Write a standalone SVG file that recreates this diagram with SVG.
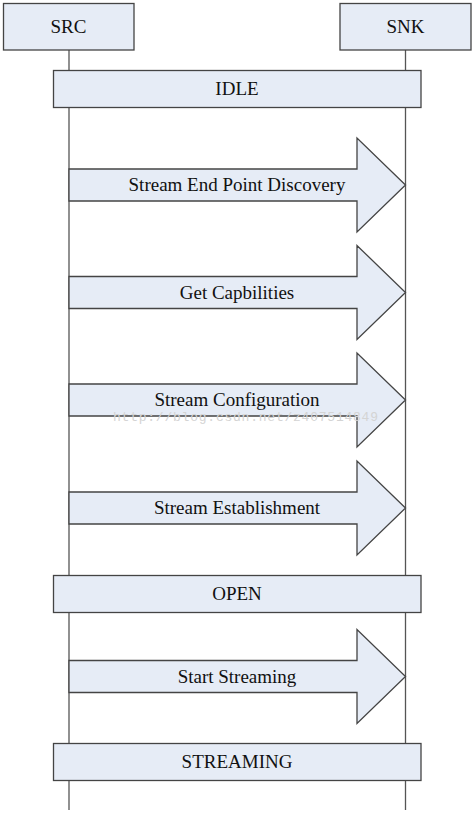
<svg xmlns="http://www.w3.org/2000/svg" width="474" height="814" viewBox="0 0 474 814">
<style>
.box{fill:#e6ecf6;stroke:#444;stroke-width:1.3}
.life{stroke:#555;stroke-width:1.3;fill:none}
.lbl{font-family:"Liberation Serif","Times New Roman",serif;font-size:19px;fill:#111;text-anchor:middle}
.wm{font-family:"Liberation Mono","Courier New",monospace;font-size:13px;fill:#d4d4d4;text-anchor:start}
</style>
<defs>
<polygon id="arr" points="69,-16 357,-16 357,-47 405.5,0 357,47 357,16 69,16" fill="#e6ecf6" stroke="#444" stroke-width="1.3"/>
</defs>
<g id="lifelines">
<line class="life" x1="69" y1="50" x2="69" y2="810"/>
<line class="life" x1="405.5" y1="50" x2="405.5" y2="810"/>
</g>
<g id="SRC"><rect class="box" x="3.5" y="3.5" width="130.5" height="46.5"/><text class="lbl" x="68.5" y="33">SRC</text></g>
<g id="SNK"><rect class="box" x="340" y="3.5" width="131" height="46.5"/><text class="lbl" x="405.5" y="33">SNK</text></g>
<g id="IDLE"><rect class="box" x="53.5" y="70.5" width="367.5" height="37"/><text class="lbl" x="237" y="95">IDLE</text></g>
<g id="connectors">
<g id="m1"><use href="#arr" transform="translate(0,185)"/><text class="lbl" x="237" y="191">Stream End Point Discovery</text></g>
<g id="m2"><use href="#arr" transform="translate(0,292.5)"/><text class="lbl" x="237" y="298.5">Get Capbilities</text></g>
<g id="m3"><use href="#arr" transform="translate(0,400)"/><text class="lbl" x="237" y="405.5">Stream Configuration</text></g>
<g id="m4"><use href="#arr" transform="translate(0,508)"/><text class="lbl" x="237" y="514">Stream Establishment</text></g>
<g id="m5"><use href="#arr" transform="translate(0,676.5)"/><text class="lbl" x="237" y="682.5">Start Streaming</text></g>
</g>
<g id="OPEN"><rect class="box" x="53.5" y="575.5" width="367.5" height="37"/><text class="lbl" x="237" y="600">OPEN</text></g>
<g id="STREAMING"><rect class="box" x="53.5" y="743.5" width="367.5" height="37"/><text class="lbl" x="237" y="768">STREAMING</text></g>
<text class="wm" x="113" y="421" textLength="265">http://blog.csdn.net/z407514849</text>
</svg>
